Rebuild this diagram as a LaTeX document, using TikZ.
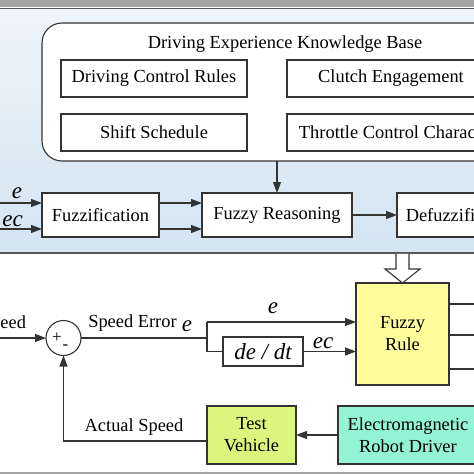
\documentclass[tikz,border=0pt]{standalone}
\usepackage{fontspec}
\setmainfont{Liberation Serif}
\usetikzlibrary{arrows.meta,calc}
\definecolor{linec}{HTML}{333333}
\definecolor{bandgray}{HTML}{A3A3A3}
\definecolor{sepline}{HTML}{555555}
\definecolor{bgtop}{HTML}{EEF5FA}
\definecolor{bgbot}{HTML}{D3E4F2}
\definecolor{ruleyellow}{HTML}{FFFC9C}
\definecolor{tvgreen}{HTML}{DCF57C}
\definecolor{emaqua}{HTML}{92F4D4}
\begin{document}
\begin{tikzpicture}[x=1pt,y=-1pt,
  txt/.style={font=\fontsize{18.4}{22}\selectfont, inner sep=0pt, outer sep=0pt, align=center},
  mlbl/.style={font=\fontsize{23}{26}\selectfont\itshape, inner sep=0pt, outer sep=0pt},
  sgn/.style={font=\fontsize{17}{17}\selectfont, inner sep=0pt, outer sep=0pt},
  box/.style={draw=linec, line width=1.1pt, fill=white, inner sep=0pt, outer sep=0pt, align=center, font=\fontsize{18.4}{22}\selectfont},
  conn/.style={draw=linec, line width=1.1pt},
  arr/.style={conn, -{Triangle[length=11pt,width=8pt]}}
]
\useasboundingbox (0,0) rectangle (474,474);
\clip (0,0) rectangle (474,474);
% backgrounds
\fill[white] (0,0) rectangle (474,474);
\shade[top color=bgtop, bottom color=bgbot] (0,9) rectangle (474,253);
\fill[bandgray] (0,0) rectangle (474,7);
\draw[sepline, line width=1.2pt] (0,8.5) -- (474,8.5);
\draw[sepline, line width=1.5pt] (0,253) -- (474,253);
\fill[bandgray] (0,472) rectangle (474,474);

% knowledge base
\node[draw=linec, line width=1.1pt, fill=white, rounded corners=20pt, minimum width=486pt, minimum height=138pt, inner sep=0pt, outer sep=0pt] (kb) at (285,92) {};
\node[txt] (kbtitle) at (285,44) {Driving Experience Knowledge Base};
\node[box, minimum width=186pt, minimum height=37pt] (dcr) at (154,78.5) {Driving Control Rules};
\node[box, minimum width=208pt, minimum height=37pt] (clutch) at (391,78.5) {Clutch Engagement};
\node[box, minimum width=186pt, minimum height=37pt] (shift) at (154,132.5) {Shift Schedule};
\node[box, minimum width=258pt, minimum height=37pt] (throttle) at (416,132.5) {Throttle Control Characteristics};

% fuzzy chain
\node[box, minimum width=117pt, minimum height=44pt] (fuzz) at (100.5,215) {Fuzzification};
\node[box, minimum width=150pt, minimum height=44pt] (reason) at (277,215) {Fuzzy Reasoning};
\node[box, minimum width=132pt, minimum height=44pt] (defuzz) at (463,215) {Defuzzification};

\coordinate (ein) at (0,203);
\coordinate (ecin) at (0,229);
\node[mlbl] (elbl1) at (17,193.5) {e};
\node[mlbl] (eclbl1) at (12.5,221) {ec};
\draw[arr] (ein) -- (ein -| fuzz.west);
\draw[arr] (ecin) -- (ecin -| fuzz.west);
\draw[arr] (fuzz.east |- ein) -- (reason.west |- ein);
\draw[arr] (fuzz.east |- ecin) -- (reason.west |- ecin);
\draw[arr] (kb.south -| reason.north) -- (reason.north);
\draw[arr] (reason.east) -- (defuzz.west);

% fuzzy rule
\node[box, fill=ruleyellow, minimum width=93pt, minimum height=102pt] (rule) at (402.5,334) {Fuzzy\\Rule};
\draw[draw=linec, line width=1.1pt, fill=white, line join=miter]
  (396,253.8) -- (396,269) -- (385,269) -- (rule.north) -- (420,269) -- (409,269) -- (409,253.8);
\coordinate (o1) at (474,304);
\coordinate (o2) at (474,335);
\coordinate (o3) at (474,369);
\draw[conn] (rule.east |- o1) -- (o1);
\draw[conn] (rule.east |- o2) -- (o2);
\draw[conn] (rule.east |- o3) -- (o3);

% summing junction
\node[draw=linec, line width=1.1pt, fill=white, circle, minimum size=35pt, inner sep=0pt, outer sep=0pt] (sum) at (63.5,338) {};
\node[sgn] (plus) at (57,337.5) {+};
\node[sgn] (minus) at (65.5,347.5) {-};
\node[txt, anchor=east] (speedlbl) at (26,324) {Speed};
\coordinate (spin) at (0,338);
\draw[arr] (spin) -- (sum.west);

\node[txt] (errlbl) at (132.5,323) {Speed Error};
\node[mlbl] (elbl2) at (187,326) {e};
\coordinate (br) at (207,338);
\coordinate (brtop) at (207,322);
\coordinate (brbot) at (207,351.5);
\draw[conn] (sum.east) -- (br);
\draw[conn] (brtop) -- (brbot);
\node[box, font=\fontsize{23}{26}\selectfont\itshape, minimum width=80pt, minimum height=29pt] (dedt) at (263,351.5) {de / dt};
\draw[arr] (brtop) -- (brtop -| rule.west);
\draw[conn] (brbot) -- (dedt.west);
\draw[arr] (dedt.east) -- (dedt.east -| rule.west);
\node[mlbl] (elbl3) at (273,308) {e};
\node[mlbl] (eclbl2) at (323,343) {ec};

% bottom row
\node[box, fill=tvgreen, minimum width=89pt, minimum height=58pt] (tv) at (251.5,435) {Test\\Vehicle};
\node[box, fill=emaqua, minimum width=140pt, minimum height=58pt] (em) at (408,435) {Electromagnetic\\Robot Driver};
\draw[arr] (em.west) -- (tv.east);
\coordinate (fb) at (207,441);
\draw[arr] (fb) -| (sum.south);
\node[txt] (actlbl) at (134,427) {Actual Speed};
\end{tikzpicture}
\end{document}
